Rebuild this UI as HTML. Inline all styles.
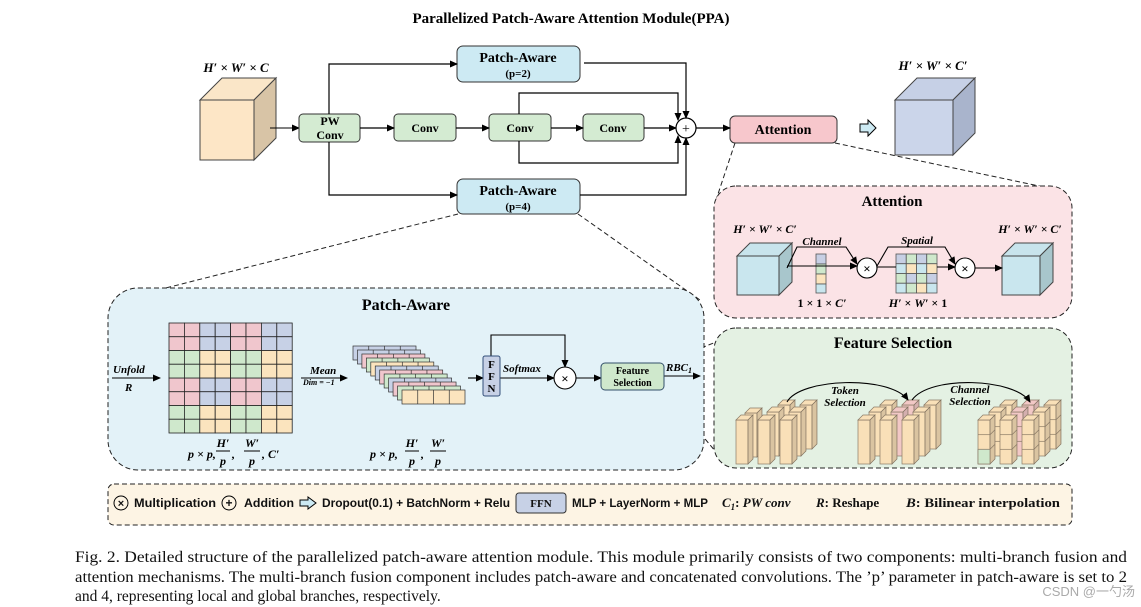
<!DOCTYPE html>
<html><head><meta charset="utf-8"><style>
html,body{margin:0;padding:0;background:#fff;}
svg{display:block;}
</style></head><body>
<svg width="1141" height="607" viewBox="0 0 1141 607" xmlns="http://www.w3.org/2000/svg" font-family="Liberation Serif, serif">
<defs>
<marker id="a" markerWidth="8" markerHeight="8" refX="7" refY="4" orient="auto" markerUnits="userSpaceOnUse"><path d="M0,0.5 L8,4 L0,7.5z" fill="#000"/></marker>
<g id="p" stroke="#8a7a66" stroke-width="0.7">
<rect x="0" y="0" width="12" height="44"/>
<polygon points="0,0 5,-5 17,-5 12,0"/>
<polygon points="12,0 17,-5 17,39 12,44"/>
<polygon points="12,0 17,-5 17,39 12,44" fill="#000" fill-opacity="0.12" stroke="none"/>
</g>
<g id="pc">
<use href="#p"/>
<line x1="0" y1="14.7" x2="12" y2="14.7" stroke="#8a7a66" stroke-width="0.7"/>
<line x1="0" y1="29.3" x2="12" y2="29.3" stroke="#8a7a66" stroke-width="0.7"/>
<line x1="12" y1="14.7" x2="17" y2="9.7" stroke="#8a7a66" stroke-width="0.7"/>
<line x1="12" y1="29.3" x2="17" y2="24.3" stroke="#8a7a66" stroke-width="0.7"/>
</g>
</defs>
<text x="571" y="23" text-anchor="middle" font-size="15" font-weight="bold">Parallelized Patch-Aware Attention Module(PPA)</text>

<!-- input cube -->
<text x="236" y="72" text-anchor="middle" font-size="13" font-weight="bold" font-style="italic">H′ × W′ × C</text>
<polygon points="200,100 222,78 276,78 254,100" fill="#fae6c8" stroke="#444"/>
<polygon points="254,100 276,78 276,138 254,160" fill="#d8c4a6" stroke="#444"/>
<rect x="200" y="100" width="54" height="60" fill="#fde6c6" stroke="#444"/>
<line x1="270" y1="128" x2="299" y2="128" stroke="#000" marker-end="url(#a)"/>

<g stroke="#333" stroke-width="1">
<rect x="299" y="114" width="61" height="28" rx="4" fill="#d4ebd2"/>
<rect x="394" y="114" width="62" height="27" rx="4" fill="#d4ebd2"/>
<rect x="489" y="114" width="62" height="27" rx="4" fill="#d4ebd2"/>
<rect x="583" y="114" width="61" height="27" rx="4" fill="#d4ebd2"/>
<rect x="457" y="46" width="123" height="36" rx="6" fill="#cdeaf3"/>
<rect x="457" y="179" width="123" height="35" rx="6" fill="#cdeaf3"/>
<rect x="730" y="116" width="107" height="27" rx="5" fill="#f7c7cc"/>
</g>
<g font-weight="bold" text-anchor="middle" font-size="12">
<text x="330" y="125">PW</text><text x="330" y="139">Conv</text>
<text x="425" y="132">Conv</text><text x="520" y="132">Conv</text><text x="613" y="132">Conv</text>
<text x="518" y="62" font-size="14">Patch-Aware</text><text x="518" y="77" font-size="11">(p=2)</text>
<text x="518" y="195" font-size="14">Patch-Aware</text><text x="518" y="210" font-size="11">(p=4)</text>
<text x="783" y="134" font-size="14">Attention</text>
</g>
<g stroke="#000" fill="none" stroke-width="1.2">
<line x1="360" y1="128" x2="394" y2="128" marker-end="url(#a)"/>
<line x1="456" y1="128" x2="489" y2="128" marker-end="url(#a)"/>
<line x1="551" y1="128" x2="583" y2="128" marker-end="url(#a)"/>
<line x1="644" y1="128" x2="676" y2="128" marker-end="url(#a)"/>
<polyline points="329,114 329,64 457,64" marker-end="url(#a)"/>
<polyline points="329,142 329,195 457,195" marker-end="url(#a)"/>
<polyline points="584,63 686,63 686,118" marker-end="url(#a)"/>
<polyline points="580,195 686,195 686,138" marker-end="url(#a)"/>
<polyline points="519,114 519,93 678,93 678,120" marker-end="url(#a)"/>
<polyline points="519,141 519,163 678,163 678,136" marker-end="url(#a)"/>
<circle cx="686" cy="128" r="10" fill="#fff"/>
<line x1="696" y1="128" x2="730" y2="128" marker-end="url(#a)"/>
</g>
<text x="686" y="133" text-anchor="middle" font-size="14">+</text>
<path d="M860,124 L868,124 L868,120 L876,128 L868,136 L868,132 L860,132 Z" fill="#cdeaf3" stroke="#000"/>
<text x="933" y="70" text-anchor="middle" font-size="13" font-weight="bold" font-style="italic">H′ × W′ × C′</text>
<polygon points="895,100 917,78 975,78 953,100" fill="#c6d0e6" stroke="#444"/>
<polygon points="953,100 975,78 975,133 953,155" fill="#a9b4cc" stroke="#444"/>
<rect x="895" y="100" width="58" height="55" fill="#cbd5ea" stroke="#444"/>

<g stroke="#222" stroke-dasharray="5,3" fill="none">
<line x1="735" y1="143" x2="716" y2="200"/>
<line x1="835" y1="143" x2="1058" y2="190"/>
<line x1="458" y1="214" x2="150" y2="292"/>
<line x1="578" y1="214" x2="700" y2="300"/>
<line x1="664" y1="363" x2="716" y2="342"/>
<line x1="664" y1="390" x2="716" y2="452"/>
</g>
<rect x="714" y="186" width="358" height="132" rx="22" fill="#fbe3e6" stroke="#222" stroke-dasharray="5,3"/>
<rect x="714" y="328" width="358" height="140" rx="22" fill="#e4f1e3" stroke="#222" stroke-dasharray="5,3"/>
<rect x="108" y="288" width="596" height="182" rx="30" fill="#e3f2f8" stroke="#222" stroke-dasharray="5,3"/>
<rect x="108" y="484" width="964" height="41" rx="6" fill="#fdf4e4" stroke="#222" stroke-dasharray="5,3"/>

<!-- Attention panel -->
<text x="892" y="206" text-anchor="middle" font-size="15" font-weight="bold">Attention</text>
<text x="765" y="233" text-anchor="middle" font-size="12" font-weight="bold" font-style="italic">H′ × W′ × C′</text>
<text x="1030" y="233" text-anchor="middle" font-size="12" font-weight="bold" font-style="italic">H′ × W′ × C′</text>
<polygon points="737,256 750,243 792,243 779,256" fill="#c8e4ec" stroke="#444"/>
<polygon points="779,256 792,243 792,282 779,295" fill="#a8c6cc" stroke="#444"/>
<rect x="737" y="256" width="42" height="39" fill="#c9e6ee" stroke="#444"/>
<polygon points="1002,256 1015,243 1053,243 1040,256" fill="#c8e4ec" stroke="#444"/>
<polygon points="1040,256 1053,243 1053,282 1040,295" fill="#a8c6cc" stroke="#444"/>
<rect x="1002" y="256" width="38" height="39" fill="#c9e6ee" stroke="#444"/>
<g stroke="#555" stroke-width="0.8">
<rect x="816" y="254" width="10" height="10" fill="#c7cfe4"/><rect x="816" y="264" width="10" height="10" fill="#cfe8cc"/><rect x="816" y="274" width="10" height="10" fill="#fbe4be"/><rect x="816" y="284" width="10" height="9" fill="#c9e6ee"/>
</g>
<g stroke="#555" stroke-width="0.8">
<rect x="896" y="254" width="10.25" height="9.75" fill="#c7cfe4"/><rect x="906.25" y="254" width="10.25" height="9.75" fill="#cfe8cc"/><rect x="916.5" y="254" width="10.25" height="9.75" fill="#c7cfe4"/><rect x="926.75" y="254" width="10.25" height="9.75" fill="#cfe8cc"/>
<rect x="896" y="263.75" width="10.25" height="9.75" fill="#c9e6ee"/><rect x="906.25" y="263.75" width="10.25" height="9.75" fill="#fbe4be"/><rect x="916.5" y="263.75" width="10.25" height="9.75" fill="#c9e6ee"/><rect x="926.75" y="263.75" width="10.25" height="9.75" fill="#fbe4be"/>
<rect x="896" y="273.5" width="10.25" height="9.75" fill="#cfe8cc"/><rect x="906.25" y="273.5" width="10.25" height="9.75" fill="#c7cfe4"/><rect x="916.5" y="273.5" width="10.25" height="9.75" fill="#cfe8cc"/><rect x="926.75" y="273.5" width="10.25" height="9.75" fill="#c7cfe4"/>
<rect x="896" y="283.25" width="10.25" height="9.75" fill="#c9e6ee"/><rect x="906.25" y="283.25" width="10.25" height="9.75" fill="#cfe8cc"/><rect x="916.5" y="283.25" width="10.25" height="9.75" fill="#fbe4be"/><rect x="926.75" y="283.25" width="10.25" height="9.75" fill="#c9e6ee"/>
</g>
<g stroke="#000" fill="none" stroke-width="1.1">
<polyline points="787,268 797,247 846,247 857,264" marker-end="url(#a)"/>
<line x1="787" y1="266" x2="857" y2="266" marker-end="url(#a)"/>
<circle cx="867" cy="268" r="10" fill="#fff"/>
<polyline points="877,266 888,247 945,247 955,264" marker-end="url(#a)"/>
<line x1="877" y1="267" x2="896" y2="267"/>
<line x1="937" y1="267" x2="955" y2="267" marker-end="url(#a)"/>
<circle cx="965" cy="268" r="10" fill="#fff"/>
<line x1="975" y1="268" x2="1002" y2="268" marker-end="url(#a)"/>
</g>
<text x="867" y="273" text-anchor="middle" font-size="13" font-weight="bold">×</text>
<text x="965" y="273" text-anchor="middle" font-size="13" font-weight="bold">×</text>
<text x="822" y="245" text-anchor="middle" font-size="11" font-style="italic" font-weight="bold">Channel</text>
<text x="917" y="244" text-anchor="middle" font-size="11" font-style="italic" font-weight="bold">Spatial</text>
<text x="822" y="307" text-anchor="middle" font-size="12" font-weight="bold">1 × 1 × <tspan font-style="italic">C′</tspan></text>
<text x="918" y="307" text-anchor="middle" font-size="12" font-weight="bold"><tspan font-style="italic">H′</tspan> × <tspan font-style="italic">W′</tspan> × 1</text>

<!-- Feature Selection panel -->
<text x="893" y="348" text-anchor="middle" font-size="16" font-weight="bold">Feature Selection</text>
<!-- group1 -->
<g fill="#f9e0b8">
<use href="#p" x="778" y="405"/><use href="#p" x="800" y="405"/>
<use href="#p" x="767" y="412"/><use href="#p" x="789" y="412"/>
<use href="#p" x="745" y="413"/>
<use href="#p" x="736" y="420"/><use href="#p" x="758" y="420"/><use href="#p" x="780" y="420"/>
</g>
<!-- group2 -->
<g fill="#f9e0b8"><use href="#p" x="880" y="405"/><use href="#p" x="924" y="405"/></g>
<g fill="#f2c8c6"><use href="#p" x="902" y="405"/></g>
<g fill="#f9e0b8"><use href="#p" x="869" y="412"/></g>
<g fill="#f2c8c6"><use href="#p" x="891" y="412"/></g>
<g fill="#f9e0b8"><use href="#p" x="913" y="412"/>
<use href="#p" x="858" y="420"/><use href="#p" x="880" y="420"/><use href="#p" x="902" y="420"/></g>
<!-- group3 -->
<g fill="#f9e0b8"><use href="#pc" x="1000" y="405"/><use href="#pc" x="1044" y="405"/></g>
<g fill="#f2c8c6"><use href="#pc" x="1022" y="405"/><use href="#pc" x="1011" y="412"/></g>
<g fill="#f9e0b8"><use href="#pc" x="989" y="412"/><use href="#pc" x="1033" y="412"/>
<use href="#pc" x="978" y="420"/><use href="#pc" x="1000" y="420"/><use href="#pc" x="1022" y="420"/></g>
<rect x="978" y="449.3" width="12" height="14.7" fill="#cfe8cc" stroke="#8a7a66" stroke-width="0.7"/>
<g stroke="#000" fill="none" stroke-width="1.1">
<path d="M787,402 C800,378 890,375 908,400" marker-end="url(#a)"/>
<path d="M912,400 C930,375 1015,378 1030,402" marker-end="url(#a)"/>
</g>
<g font-size="11" font-style="italic" font-weight="bold" text-anchor="middle">
<text x="845" y="394">Token</text><text x="845" y="406">Selection</text>
<text x="970" y="393">Channel</text><text x="970" y="405">Selection</text>
</g>

<!-- Patch-Aware panel -->
<text x="406" y="310" text-anchor="middle" font-size="16" font-weight="bold">Patch-Aware</text>
<g stroke="#222" stroke-width="0.8">
<g id="r1">
<rect x="169" y="323" width="15.4" height="13.75" fill="#f0c6cd"/><rect x="184.4" y="323" width="15.4" height="13.75" fill="#f0c6cd"/><rect x="199.8" y="323" width="15.4" height="13.75" fill="#c7d1e6"/><rect x="215.2" y="323" width="15.4" height="13.75" fill="#c7d1e6"/><rect x="230.6" y="323" width="15.4" height="13.75" fill="#f0c6cd"/><rect x="246" y="323" width="15.4" height="13.75" fill="#f0c6cd"/><rect x="261.4" y="323" width="15.4" height="13.75" fill="#c7d1e6"/><rect x="276.8" y="323" width="15.4" height="13.75" fill="#c7d1e6"/>
</g>
<use href="#r1" y="13.75"/><use href="#r1" y="55"/><use href="#r1" y="68.75"/>
<g id="r2">
<rect x="169" y="350.5" width="15.4" height="13.75" fill="#cfe8cc"/><rect x="184.4" y="350.5" width="15.4" height="13.75" fill="#cfe8cc"/><rect x="199.8" y="350.5" width="15.4" height="13.75" fill="#fbe4be"/><rect x="215.2" y="350.5" width="15.4" height="13.75" fill="#fbe4be"/><rect x="230.6" y="350.5" width="15.4" height="13.75" fill="#cfe8cc"/><rect x="246" y="350.5" width="15.4" height="13.75" fill="#cfe8cc"/><rect x="261.4" y="350.5" width="15.4" height="13.75" fill="#fbe4be"/><rect x="276.8" y="350.5" width="15.4" height="13.75" fill="#fbe4be"/>
</g>
<use href="#r2" y="13.75"/><use href="#r2" y="55"/><use href="#r2" y="68.75"/>
</g>
<g stroke="#333" stroke-width="0.7">
<g id="L0"><rect x="353" y="346" width="63" height="14" fill="#c7d1e6"/><line x1="368.75" y1="346" x2="368.75" y2="360"/><line x1="384.5" y1="346" x2="384.5" y2="360"/><line x1="400.25" y1="346" x2="400.25" y2="360"/></g>
<use href="#L0" x="4.45" y="4"/>
<g transform="translate(8.9,8)"><rect x="353" y="346" width="63" height="14" fill="#f0c6cd"/><line x1="368.75" y1="346" x2="368.75" y2="360"/><line x1="384.5" y1="346" x2="384.5" y2="360"/><line x1="400.25" y1="346" x2="400.25" y2="360"/></g>
<g transform="translate(13.35,12)"><rect x="353" y="346" width="63" height="14" fill="#cfe8cc"/><line x1="368.75" y1="346" x2="368.75" y2="360"/><line x1="384.5" y1="346" x2="384.5" y2="360"/><line x1="400.25" y1="346" x2="400.25" y2="360"/></g>
<g transform="translate(17.8,16)"><rect x="353" y="346" width="63" height="14" fill="#fbe4be"/><line x1="368.75" y1="346" x2="368.75" y2="360"/><line x1="384.5" y1="346" x2="384.5" y2="360"/><line x1="400.25" y1="346" x2="400.25" y2="360"/></g>
<g transform="translate(22.25,20)"><rect x="353" y="346" width="63" height="14" fill="#c7d1e6"/><line x1="368.75" y1="346" x2="368.75" y2="360"/><line x1="384.5" y1="346" x2="384.5" y2="360"/><line x1="400.25" y1="346" x2="400.25" y2="360"/></g>
<g transform="translate(26.7,24)"><rect x="353" y="346" width="63" height="14" fill="#f0c6cd"/><line x1="368.75" y1="346" x2="368.75" y2="360"/><line x1="384.5" y1="346" x2="384.5" y2="360"/><line x1="400.25" y1="346" x2="400.25" y2="360"/></g>
<g transform="translate(31.15,28)"><rect x="353" y="346" width="63" height="14" fill="#cfe8cc"/><line x1="368.75" y1="346" x2="368.75" y2="360"/><line x1="384.5" y1="346" x2="384.5" y2="360"/><line x1="400.25" y1="346" x2="400.25" y2="360"/></g>
<g transform="translate(35.6,32)"><rect x="353" y="346" width="63" height="14" fill="#c7d1e6"/><line x1="368.75" y1="346" x2="368.75" y2="360"/><line x1="384.5" y1="346" x2="384.5" y2="360"/><line x1="400.25" y1="346" x2="400.25" y2="360"/></g>
<g transform="translate(40.05,36)"><rect x="353" y="346" width="63" height="14" fill="#f0c6cd"/><line x1="368.75" y1="346" x2="368.75" y2="360"/><line x1="384.5" y1="346" x2="384.5" y2="360"/><line x1="400.25" y1="346" x2="400.25" y2="360"/></g>
<g transform="translate(44.5,40)"><rect x="353" y="346" width="63" height="14" fill="#cfe8cc"/><line x1="368.75" y1="346" x2="368.75" y2="360"/><line x1="384.5" y1="346" x2="384.5" y2="360"/><line x1="400.25" y1="346" x2="400.25" y2="360"/></g>
<g transform="translate(49,44)"><rect x="353" y="346" width="63" height="14" fill="#fbe4be"/><line x1="368.75" y1="346" x2="368.75" y2="360"/><line x1="384.5" y1="346" x2="384.5" y2="360"/><line x1="400.25" y1="346" x2="400.25" y2="360"/></g>
</g>
<g stroke="#000" fill="none" stroke-width="1.1">
<line x1="112" y1="378" x2="160" y2="378" marker-end="url(#a)"/>
<line x1="301" y1="378" x2="347" y2="378" marker-end="url(#a)"/>
<line x1="468" y1="378" x2="483" y2="378" marker-end="url(#a)"/>
<line x1="500" y1="378" x2="554" y2="378" marker-end="url(#a)"/>
<polyline points="491,356 491,335 565,335 565,367" marker-end="url(#a)"/>
<circle cx="565" cy="378" r="11" fill="#fff"/>
<line x1="576" y1="378" x2="601" y2="378" marker-end="url(#a)"/>
<line x1="664" y1="376" x2="700" y2="376" marker-end="url(#a)"/>
</g>
<text x="565" y="383" text-anchor="middle" font-size="13" font-weight="bold">×</text>
<rect x="483" y="356" width="17" height="40" rx="2" fill="#c7d1e6" stroke="#33507a"/>
<g font-size="11" font-weight="bold" text-anchor="middle"><text x="491.5" y="368">F</text><text x="491.5" y="380">F</text><text x="491.5" y="392">N</text></g>
<rect x="601" y="363" width="63" height="27" rx="4" fill="#cfe8cc" stroke="#33506a"/>
<g font-size="10" font-weight="bold" text-anchor="middle"><text x="632.5" y="374">Feature</text><text x="632.5" y="386">Selection</text></g>
<g font-size="11" font-style="italic" font-weight="bold">
<text x="113" y="373">Unfold</text><text x="125" y="391">R</text>
<text x="310" y="374">Mean</text><text x="303" y="385" font-size="8">Dim = −1</text>
<text x="503" y="372">Softmax</text>
<text x="666" y="371">RBC<tspan font-size="8" dy="2">1</tspan></text>
</g>
<g font-size="12" font-weight="bold" font-style="italic">
<text x="188" y="458">p × p,</text>
<text x="223" y="447" text-anchor="middle">H′</text><line x1="216" y1="451" x2="230" y2="451" stroke="#000"/><text x="223" y="465" text-anchor="middle">p</text>
<text x="232" y="458">,</text>
<text x="252" y="447" text-anchor="middle">W′</text><line x1="244" y1="451" x2="260" y2="451" stroke="#000"/><text x="252" y="465" text-anchor="middle">p</text>
<text x="262" y="458">, C′</text>
<text x="370" y="458">p × p,</text>
<text x="412" y="447" text-anchor="middle">H′</text><line x1="405" y1="451" x2="419" y2="451" stroke="#000"/><text x="412" y="465" text-anchor="middle">p</text>
<text x="421" y="458">,</text>
<text x="438" y="447" text-anchor="middle">W′</text><line x1="430" y1="451" x2="446" y2="451" stroke="#000"/><text x="438" y="465" text-anchor="middle">p</text>
</g>

<!-- legend -->
<g font-family="Liberation Sans, sans-serif" font-size="12" font-weight="bold" fill="#111">
<circle cx="121" cy="503" r="7" fill="none" stroke="#000"/><text x="121" y="507" text-anchor="middle" font-size="11">×</text>
<text x="134" y="507" textLength="82" lengthAdjust="spacingAndGlyphs">Multiplication</text>
<circle cx="229" cy="503" r="7" fill="none" stroke="#000"/><text x="229" y="507" text-anchor="middle" font-size="12">+</text>
<text x="244" y="507" textLength="50" lengthAdjust="spacingAndGlyphs">Addition</text>
<path d="M300,500 L308,500 L308,497 L316,503 L308,509 L308,506 L300,506 Z" fill="#cdeaf3" stroke="#000"/>
<text x="322" y="507" textLength="188" lengthAdjust="spacingAndGlyphs">Dropout(0.1) + BatchNorm + Relu</text>
<rect x="516" y="493" width="50" height="20" rx="3" fill="#c7d1e6" stroke="#333"/>
<text x="541" y="507" text-anchor="middle" font-family="Liberation Serif, serif" font-size="11">FFN</text>
<text x="572" y="507" textLength="136" lengthAdjust="spacingAndGlyphs">MLP + LayerNorm + MLP</text>
<text x="722" y="507" font-family="Liberation Serif, serif" font-style="italic" font-size="13">C<tspan font-size="9" dy="3">1</tspan><tspan dy="-3" font-style="normal">: </tspan>PW conv</text>
<text x="816" y="507" font-family="Liberation Serif, serif" font-size="13"><tspan font-style="italic">R</tspan>: Reshape</text>
<text x="906" y="507" font-family="Liberation Serif, serif" font-size="13" textLength="154" lengthAdjust="spacingAndGlyphs"><tspan font-style="italic">B</tspan>: Bilinear interpolation</text>
</g>

<!-- caption -->
<g font-size="15.5" fill="#111">
<text x="75" y="562" textLength="1052" lengthAdjust="spacingAndGlyphs">Fig. 2.  Detailed structure of the parallelized patch-aware attention module. This module primarily consists of two components: multi-branch fusion and</text>
<text x="75" y="582" textLength="1052" lengthAdjust="spacingAndGlyphs">attention mechanisms. The multi-branch fusion component includes patch-aware and concatenated convolutions. The ’p’ parameter in patch-aware is set to 2</text>
<text x="75" y="601">and 4, representing local and global branches, respectively.</text>
</g>
<text x="1135" y="596" text-anchor="end" font-family="Liberation Sans, Noto Sans CJK SC, sans-serif" font-size="13" fill="#aaa">CSDN @一勺汤</text>
</svg>
</body></html>
